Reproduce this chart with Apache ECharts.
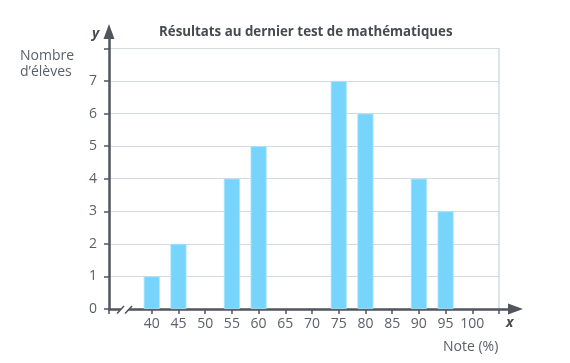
<!DOCTYPE html>
<html>
<head>
<meta charset="utf-8">
<script src="https://cdn.jsdelivr.net/npm/echarts@6/dist/echarts.min.js"></script>
<style>
html,body{margin:0;padding:0;background:#fff;}
#chart{width:570px;height:363px;}
</style>
</head>
<body>
<div id="chart"></div>
<script>
// ---- data ----
const notes = [40, 45, 50, 55, 60, 65, 70, 75, 80, 85, 90, 95, 100];
const counts = [1, 2, 0, 4, 5, 0, 0, 7, 6, 0, 4, 3, 0];
const yTickLabels = [0, 1, 2, 3, 4, 5, 6, 7];
const titleText = 'Résultats au dernier test de mathématiques';
const yName = 'Nombre\nd’élèves';
const xName = 'Note (%)';

const FONT = 'Open Sans';
const AXIS = '#50565e';
const LABEL = '#5b6068';
const GRIDC = '#d3dae5';
const BAR = '#76d4fd';

const xMin = 32, xMax = 105;
const barData = notes.map((n, i) => [n, counts[i]]).filter(d => d[1] > 0);

const chart = echarts.init(document.getElementById('chart'), null, {renderer: 'canvas'});
const option = {
  animation: false,
  backgroundColor: '#fff',
  textStyle: {fontFamily: FONT},
  title: [
    {text: titleText, left: 159, top: 26, padding: 0,
     textStyle: {fontFamily: FONT, fontSize: 13.3, fontWeight: 'bold', color: '#464b52'}},
    {text: yName, left: 20, top: 48, padding: 0,
     textStyle: {fontFamily: FONT, fontSize: 14, fontWeight: 'normal', color: LABEL, lineHeight: 16, align: 'center'}},
    {text: xName, left: 443, top: 340, padding: 0,
     textStyle: {fontFamily: FONT, fontSize: 14, fontWeight: 'normal', color: LABEL}},
    {text: 'y', left: 92, top: 27, padding: 0,
     textStyle: {fontFamily: FONT, fontSize: 14, fontWeight: 'bold', fontStyle: 'italic', color: '#464b52'}},
    {text: 'x', left: 506, top: 316, padding: 0,
     textStyle: {fontFamily: FONT, fontSize: 14, fontWeight: 'bold', fontStyle: 'italic', color: '#464b52'}}
  ],
  grid: [
    {left: 109, right: 71, top: 48.4, bottom: 54},
    {left: 109, right: 54.5, top: 31.5, bottom: 54}
  ],
  xAxis: [
    {gridIndex: 0, type: 'value', min: xMin, max: xMax,
     axisLine: {show: false},
     axisTick: {show: true, length: 5, customValues: [xMin].concat(notes, [xMax]),
                lineStyle: {color: AXIS, width: 1.5}},
     axisLabel: {show: true, customValues: notes, margin: 8, fontSize: 14, color: LABEL, fontFamily: FONT},
     splitLine: {show: false}},
    {gridIndex: 1, type: 'value', min: 0, max: 1,
     axisLine: {show: true, symbol: ['none', 'triangle'], symbolSize: [11, 15],
                lineStyle: {color: AXIS, width: 2.5}},
     axisTick: {show: false}, axisLabel: {show: false}, splitLine: {show: false}}
  ],
  yAxis: [
    {gridIndex: 0, type: 'value', min: 0, max: 8, interval: 1,
     axisLine: {show: false},
     axisTick: {show: true, length: 5, lineStyle: {color: AXIS, width: 1.5}},
     axisLabel: {margin: 12, fontSize: 14, color: LABEL, fontFamily: FONT,
                 formatter: v => (yTickLabels.indexOf(v) >= 0 ? String(v) : '')},
     splitLine: {show: true, lineStyle: {color: GRIDC, width: 1.2}}},
    {gridIndex: 0, type: 'value', min: 0, max: 8, position: 'right',
     axisLine: {show: true, lineStyle: {color: GRIDC, width: 1.5}},
     axisTick: {show: false}, axisLabel: {show: false}, splitLine: {show: false}},
    {gridIndex: 1, type: 'value', min: 0, max: 1,
     axisLine: {show: true, symbol: ['none', 'triangle'], symbolSize: [11, 15],
                lineStyle: {color: AXIS, width: 2.5}},
     axisTick: {show: false}, axisLabel: {show: false}, splitLine: {show: false}}
  ],
  series: [
    {type: 'bar', xAxisIndex: 0, yAxisIndex: 0, data: barData, barWidth: 16,
     itemStyle: {color: BAR, borderColor: '#a6e3fc', borderWidth: 0.8}, z: 1}
  ]
};
chart.setOption(option);

// axis break mark, placed via the axis scale
const p = chart.convertToPixel({xAxisIndex: 0, yAxisIndex: 0}, [35, 0]);
const cx = p[0], cy = p[1];
chart.setOption({
  graphic: [
    {type: 'polygon', z: 100, shape: {points: [[cx - 8, cy + 4], [cx - 1, cy - 3], [cx + 7, cy - 3], [cx, cy + 4]]},
     style: {fill: '#fff'}},
    {type: 'line', z: 101, shape: {x1: cx - 8, y1: cy + 4.5, x2: cx - 1, y2: cy - 3}, style: {stroke: AXIS, lineWidth: 1.6}},
    {type: 'line', z: 101, shape: {x1: cx, y1: cy + 4.5, x2: cx + 7, y2: cy - 3}, style: {stroke: AXIS, lineWidth: 1.6}}
  ]
});
</script>
</body>
</html>
